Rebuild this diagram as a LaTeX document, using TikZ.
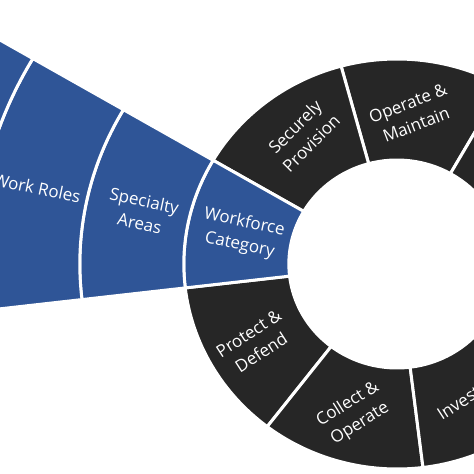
\documentclass[tikz,border=0pt]{standalone}
\usepackage{fontspec}
\setmainfont{Open Sans}
\definecolor{ringblack}{HTML}{262626}
\definecolor{fanblue}{HTML}{2F5597}
\newcommand\mysector[5]{%
  \filldraw[#1] (#2:#4) -- (#2:#5) arc[start angle=#2, end angle=#3, radius=#5]
    -- (#3:#4) arc[start angle=#3, end angle=#2, radius=#4] -- cycle;}
\begin{document}
\begin{tikzpicture}[x=1pt,y=1pt,
  seg/.style={draw=white, line width=3pt, line join=round},
  blk/.style={seg, fill=ringblack},
  blu/.style={seg, fill=fanblue},
  lbl/.style={text=white, font=\fontsize{17}{23}\selectfont, align=center, inner sep=0pt}]
\useasboundingbox (0,0) rectangle (474,474);
\clip (0,0) rectangle (474,474);
\begin{scope}[shift={(397,210)}, xscale=1.04]
  % black ring
  \mysector{blk}{60.4}{105.2}{104}{205}
  \mysector{blk}{105.2}{149.6}{104}{205}
  \mysector{blk}{186.7}{232.5}{104}{205}
  \mysector{blk}{232.5}{277}{104}{205}
  \mysector{blk}{277}{324}{104}{205}
  \mysector{blk}{324}{372}{104}{205}
  \mysector{blk}{372}{420.4}{104}{205}
  % blue fan
  \mysector{blu}{149.6}{186.7}{104}{205}
  \mysector{blu}{149.6}{186.7}{205}{305}
  \mysector{blu}{149.6}{186.7}{305}{406}
  \mysector{blu}{149.6}{186.7}{406}{506}
  \mysector{blu}{149.6}{186.7}{506}{606}
\end{scope}
% labels in the blue fan
\node[lbl, rotate=-12] (wc) at (242,240) {Workforce\\Category};
\node[lbl, rotate=-12] (sa) at (142,262) {Specialty\\Areas};
\node[lbl, rotate=-12] (wr) at (37,286) {Work Roles};
% labels in the black ring
\node[lbl, rotate=45] (sp) at (303,339) {Securely\\Provision};
\node[lbl, rotate=21] (om) at (412,360) {Operate \&\\Maintain};
\node[lbl, rotate=33] (pd) at (255,131) {Protect \&\\Defend};
\node[lbl, rotate=32] (co) at (354,60) {Collect \&\\Operate};
\node[lbl, rotate=33] (inv) at (476,80) {Investigate};
\end{tikzpicture}
\end{document}
